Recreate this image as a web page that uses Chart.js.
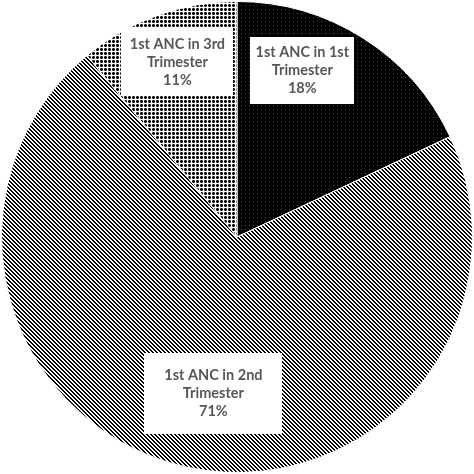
<!DOCTYPE html>
<html lang="en">
<head>
  <meta charset="UTF-8">
  <title>1st ANC timing</title>
  <script src="https://cdn.jsdelivr.net/npm/chart.js"></script>
  <style>
    html, body { margin: 0; padding: 0; background: #fff; }
    #wrap { width: 474px; height: 474px; }
  </style>
</head>
<body>
  <div id="wrap"><canvas id="pie"></canvas></div>
  <script>
  // data
  const labels = ['1st ANC in 1st Trimester', '1st ANC in 2nd Trimester', '1st ANC in 3rd Trimester'];
  const values = [18, 71, 11];
  const valueText = ['18%', '71%', '11%'];

  // label box placement: radial fraction, angle offset from slice middle (deg), box w/h
  const boxStyle = [
    { r: 0.76, dAng: -11, w: 104, h: 67, lines: ['1st ANC in 1st', 'Trimester'] },
    { r: 0.67, dAng: -4,  w: 138, h: 81, lines: ['1st ANC in 2nd', 'Trimester'] },
    { r: 0.785, dAng: 1,  w: 112, h: 67, lines: ['1st ANC in 3rd', 'Trimester'] }
  ];

  function makeTile(size, painter) {
    const c = document.createElement('canvas');
    c.width = size; c.height = size;
    const g = c.getContext('2d');
    const img = g.createImageData(size, size);
    for (let y = 0; y < size; y++) {
      for (let x = 0; x < size; x++) {
        const v = painter(x, y);
        const i = (y * size + x) * 4;
        img.data[i] = img.data[i + 1] = img.data[i + 2] = v;
        img.data[i + 3] = 255;
      }
    }
    g.putImageData(img, 0, 0);
    return g.createPattern(c, 'repeat');
  }

  // black with faint dots
  const darkDots = makeTile(4, (x, y) => (x === 1 && y === 1) ? 70 : 0);
  // diagonal "\" hatching
  const hatch = makeTile(4, (x, y) => (((x - y) % 4 + 4) % 4) < 2 ? 0 : 255);
  // round-ish black dots on white
  const plusDots = makeTile(4, (x, y) => {
    if (x === 3 || y === 3) return 255;
    const corner = (x !== 1 && y !== 1);
    return corner ? 110 : 0;
  });

  const boxLabels = {
    id: 'boxLabels',
    afterDatasetsDraw(chart) {
      const ctx = chart.ctx;
      const meta = chart.getDatasetMeta(0);
      ctx.save();
      meta.data.forEach((arc, i) => {
        const s = boxStyle[i];
        const p = arc.getProps(['x', 'y', 'startAngle', 'endAngle', 'outerRadius'], true);
        const mid = (p.startAngle + p.endAngle) / 2 + s.dAng * Math.PI / 180;
        const cx = p.x + Math.cos(mid) * p.outerRadius * s.r;
        const cy = p.y + Math.sin(mid) * p.outerRadius * s.r;
        ctx.fillStyle = '#fff';
        ctx.fillRect(Math.round(cx - s.w / 2), Math.round(cy - s.h / 2), s.w, s.h);
        ctx.fillStyle = '#575757';
        ctx.font = 'bold 14.5px Lato, "Open Sans", sans-serif';
        ctx.textAlign = 'center';
        ctx.textBaseline = 'middle';
        const rows = s.lines.concat([valueText[i]]);
        const lh = 18;
        rows.forEach((t, k) => {
          ctx.fillText(t, cx, cy + (k - (rows.length - 1) / 2) * lh);
        });
      });
      ctx.restore();
    }
  };

  new Chart(document.getElementById('pie'), {
    type: 'pie',
    data: {
      labels: labels,
      datasets: [{
        data: values,
        backgroundColor: [darkDots, hatch, plusDots],
        borderColor: '#fff',
        borderWidth: 1
      }]
    },
    options: {
      responsive: true,
      maintainAspectRatio: false,
      animation: false,
      layout: { padding: 1 },
      plugins: {
        legend: { display: false },
        tooltip: { enabled: false }
      }
    },
    plugins: [boxLabels]
  });
  </script>
</body>
</html>
